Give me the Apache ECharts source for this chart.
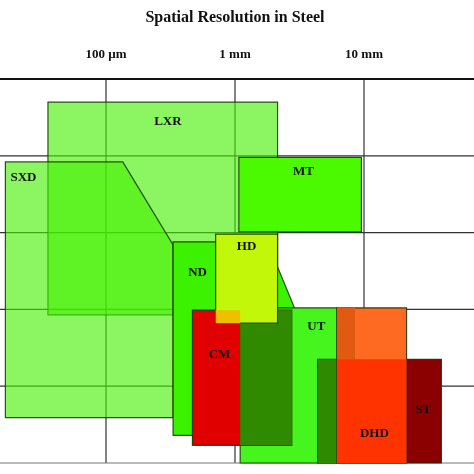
<!DOCTYPE html>
<html><head><meta charset="utf-8">
<script src="https://cdn.jsdelivr.net/npm/echarts@6/dist/echarts.min.js"></script>
<style>html,body{margin:0;padding:0;background:#fff}#c{width:474px;height:474px}</style>
</head><body><div id="c"></div>
<script>
// x: log10(size in mm); y: row units (0 top .. 5 bottom)
const tickValues = [-1, 0, 1];
const tickLabels = ['100 µm', '1 mm', '10 mm'];
const rowLines = [0, 1, 2, 3, 4, 5];
// shapes: [name, points, color, label position]
const LXR = [[-1.45,0.30],[0.33,0.30],[0.33,3.07],[-1.45,3.07]];
const SXD = [[-1.78,1.08],[-0.87,1.08],[-0.48,2.16],[-0.48,4.41],[-1.78,4.41]];
const MT  = [[0.03,1.02],[0.98,1.02],[0.98,1.99],[0.03,1.99]];
const ND  = [[-0.48,2.12],[0.25,2.12],[0.64,3.71],[0.64,4.64],[-0.48,4.64]];
const UT  = [[0.04,2.98],[0.79,2.98],[0.79,5],[0.04,5]];
const CM  = [[-0.33,3.01],[0.44,3.01],[0.44,4.77],[-0.33,4.77]];
const CMxUT = [[0.04,3.01],[0.44,3.01],[0.44,4.77],[0.04,4.77]];
const HD  = [[-0.15,2.02],[0.33,2.02],[0.33,3.18],[-0.15,3.18]];
const HDxCM = [[-0.15,3.01],[0.04,3.01],[0.04,3.18],[-0.15,3.18]];
const ST  = [[0.64,3.65],[1.60,3.65],[1.60,5],[0.64,5]];
const STxUT = [[0.64,3.65],[0.79,3.65],[0.79,5],[0.64,5]];
const DHD = [[0.79,2.98],[1.33,2.98],[1.33,5],[0.79,5]];
const DHDband = [[0.79,2.98],[0.93,2.98],[0.93,3.65],[0.79,3.65]];
const DHDxST = [[0.79,3.65],[1.33,3.65],[1.33,5],[0.79,5]];
const shapeList = [LXR,SXD,MT,ND,UT,CM,CMxUT,HD,HDxCM,ST,STxUT,DHD,DHDband,DHDxST];
const shapeColors = ['rgba(68,240,0,0.62)','rgba(68,240,0,0.62)','#4cfa00','#3df200','#46f41e','#e00000','#2f8a00','#c2f70a','#f0c000','#8b0000','#2e8a00','#ff6a22','#e05a12','#ff3300'];
const shapeStroke = [true,true,true,true,true,true,false,true,false,true,false,true,false,false];
const labelNames = ['LXR','SXD','MT','ND','HD','UT','CM','DHD','ST'];
const labelPos = [[-0.52,0.56],[-1.64,1.29],[0.53,1.21],[-0.29,2.52],[0.09,2.18],[0.63,3.23],[-0.12,3.59],[1.08,4.62],[1.46,4.31]];

const chart = echarts.init(document.getElementById('c'));
const serif = '"Liberation Serif", serif';
chart.setOption({
  animation:false,
  title:{text:'Spatial Resolution in Steel',left:230,top:5,textAlign:'center',
    textStyle:{fontFamily:serif,fontWeight:'bold',fontSize:16,color:'#111'}},
  grid:{left:0,right:0,top:79,bottom:11},
  xAxis:{type:'value',min:-235/129,max:239/129,show:false},
  yAxis:{type:'value',min:0,max:5,inverse:true,show:false},
  series:[
    {type:'custom',silent:true,z:1,data:shapeList.map((s,i)=>i),
     renderItem:(p,api)=>{const i=api.value(0);
       return {type:'polygon',shape:{points:shapeList[i].map(pt=>api.coord(pt))},
         style:{fill:shapeColors[i],stroke:shapeStroke[i]?'rgba(20,50,0,0.85)':null,lineWidth:1.2}};}},
    {type:'custom',silent:true,z:0,data:tickValues.map((v,i)=>i),
     renderItem:(p,api)=>{const i=api.value(0);const a=api.coord([tickValues[i],0]),b=api.coord([tickValues[i],5]);
       return {type:'group',children:[
         {type:'line',shape:{x1:a[0],y1:a[1],x2:b[0],y2:b[1]},style:{stroke:'#333',lineWidth:1.2}},
         {type:'text',x:a[0],y:55,style:{text:tickLabels[i],font:'bold 13px "Liberation Serif"',fill:'#111',align:'center',verticalAlign:'middle'}}]};}},
    {type:'custom',silent:true,z:0,data:rowLines.map((v,i)=>i),
     renderItem:(p,api)=>{const i=api.value(0);const a=api.coord([-235/129,rowLines[i]]),b=api.coord([239/129,rowLines[i]]);
       return {type:'line',shape:{x1:a[0],y1:a[1],x2:b[0],y2:b[1]},style:{stroke:i===0?'#111':(i===5?'#777':'#333'),lineWidth:i===0?2:1.2}};}},
    {type:'custom',silent:true,z:3,data:labelNames.map((v,i)=>i),
     renderItem:(p,api)=>{const i=api.value(0);const c=api.coord(labelPos[i]);
       return {type:'text',x:c[0],y:c[1],style:{text:labelNames[i],font:'bold 13px "Liberation Serif"',fill:'#111',align:'center',verticalAlign:'middle'}};}}
  ]
});
</script></body></html>
